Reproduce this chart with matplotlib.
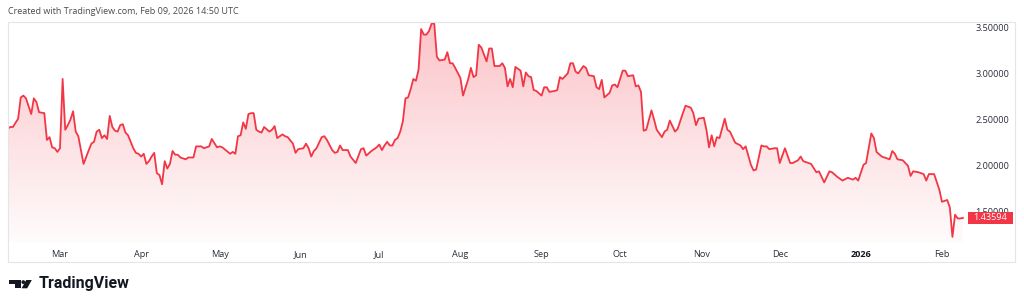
import numpy as np
import pandas as pd
import matplotlib
matplotlib.use("Agg")
import matplotlib.pyplot as plt
import matplotlib.dates as mdates
from matplotlib.patches import Rectangle, Polygon, Circle, PathPatch
from matplotlib.colors import to_rgb

# ---------------- data ----------------
START_DATE = "2025-02-09"
day_offsets = [
    0, 1, 2, 4, 5, 6, 7, 9, 10, 11, 12, 14, 15, 16, 17, 18, 19, 20, 21, 22,
    23, 24, 25, 26, 27, 29, 31, 32, 33, 34, 35, 36, 37, 38, 39, 40, 41, 42, 43, 44,
    45, 46, 48, 49, 50, 51, 52, 53, 54, 55, 56, 57, 58, 59, 60, 61, 62, 63, 64, 65,
    66, 68, 69, 71, 72, 74, 75, 77, 78, 80, 81, 82, 85, 86, 87, 88, 89, 90, 91, 92,
    93, 94, 95, 96, 97, 98, 100, 101, 102, 103, 105, 106, 107, 109, 110, 111, 113, 114, 115, 116,
    117, 118, 120, 121, 122, 124, 125, 126, 127, 128, 130, 131, 133, 135, 136, 137, 139, 141, 142, 143,
    144, 145, 146, 147, 148, 149, 150, 151, 152, 153, 154, 155, 156, 157, 158, 159, 160, 161, 162, 163,
    164, 165, 167, 168, 169, 170, 171, 173, 174, 176, 177, 178, 179, 180, 181, 183, 184, 185, 186, 188,
    189, 190, 191, 192, 193, 194, 196, 197, 198, 199, 200, 201, 202, 204, 205, 206, 207, 209, 210, 211,
    212, 214, 215, 216, 217, 218, 220, 221, 222, 224, 225, 226, 227, 228, 230, 231, 232, 233, 235, 236,
    237, 239, 240, 241, 242, 243, 244, 246, 247, 248, 250, 251, 252, 253, 255, 256, 258, 259, 261, 262,
    263, 264, 266, 267, 268, 269, 270, 271, 272, 274, 275, 276, 278, 280, 281, 282, 284, 285, 286, 288,
    289, 290, 291, 293, 294, 295, 297, 299, 300, 302, 303, 304, 306, 307, 309, 310, 312, 314, 315, 317,
    319, 321, 323, 324, 325, 327, 328, 330, 331, 332, 334, 337, 338, 339, 340, 342, 344, 345, 346, 348,
    350, 351, 352, 354, 356, 357, 359, 360, 361, 362, 363, 364, 365,
]
prices = [
    2.40, 2.42, 2.42, 2.51, 2.74, 2.76, 2.73, 2.56, 2.73, 2.69, 2.58, 2.57, 2.28, 2.31, 2.20, 2.19, 2.15, 2.19, 2.94, 2.39,
    2.44, 2.50, 2.59, 2.37, 2.32, 2.02, 2.17, 2.24, 2.26, 2.37, 2.39, 2.30, 2.33, 2.29, 2.54, 2.42, 2.38, 2.37, 2.44, 2.45,
    2.36, 2.33, 2.19, 2.14, 2.13, 2.10, 2.13, 2.02, 2.05, 2.10, 2.14, 1.92, 1.90, 1.80, 2.05, 1.97, 2.02, 2.16, 2.12, 2.12,
    2.09, 2.07, 2.09, 2.09, 2.21, 2.21, 2.19, 2.21, 2.29, 2.20, 2.21, 2.20, 2.13, 2.15, 2.13, 2.32, 2.33, 2.47, 2.40, 2.56,
    2.57, 2.57, 2.39, 2.37, 2.36, 2.42, 2.37, 2.39, 2.43, 2.30, 2.34, 2.32, 2.31, 2.24, 2.14, 2.18, 2.19, 2.24, 2.19, 2.10,
    2.16, 2.19, 2.31, 2.32, 2.28, 2.17, 2.14, 2.15, 2.22, 2.17, 2.17, 2.10, 2.03, 2.18, 2.19, 2.11, 2.16, 2.20, 2.23, 2.17,
    2.22, 2.26, 2.22, 2.22, 2.28, 2.30, 2.37, 2.48, 2.73, 2.74, 2.83, 2.94, 2.92, 3.04, 3.48, 3.42, 3.42, 3.46, 3.54, 3.54,
    3.18, 3.14, 3.15, 3.23, 3.11, 3.11, 3.06, 2.95, 2.76, 2.94, 3.06, 2.96, 2.98, 3.31, 3.28, 3.13, 3.27, 3.27, 3.08, 3.08,
    3.11, 3.06, 2.86, 2.94, 2.85, 3.07, 3.03, 2.86, 3.01, 2.97, 2.96, 2.82, 2.81, 2.76, 2.85, 2.85, 2.80, 2.81, 2.82, 2.96,
    2.94, 3.00, 3.11, 3.11, 3.02, 3.00, 3.08, 3.06, 2.98, 2.97, 2.85, 2.83, 2.93, 2.74, 2.79, 2.87, 2.88, 2.85, 3.03, 3.03,
    2.97, 2.98, 2.86, 2.87, 2.80, 2.38, 2.39, 2.60, 2.50, 2.39, 2.31, 2.37, 2.39, 2.49, 2.37, 2.40, 2.57, 2.65, 2.63, 2.57,
    2.44, 2.51, 2.52, 2.39, 2.20, 2.33, 2.21, 2.31, 2.30, 2.51, 2.39, 2.37, 2.25, 2.22, 2.18, 2.21, 2.01, 1.95, 1.96, 2.22,
    2.21, 2.21, 2.18, 2.19, 2.19, 2.03, 2.19, 2.03, 2.03, 2.06, 2.10, 2.05, 2.03, 2.02, 1.93, 1.94, 1.82, 1.94, 1.93, 1.88,
    1.84, 1.87, 1.85, 1.87, 1.84, 2.01, 2.03, 2.35, 2.30, 2.15, 2.10, 2.07, 2.16, 2.13, 2.07, 2.06, 2.00, 1.89, 1.94, 1.93,
    1.91, 1.84, 1.91, 1.91, 1.74, 1.61, 1.63, 1.55, 1.23, 1.47, 1.43, 1.43, 1.43594,
]
last_price = 1.43594
y_ticks = [1.5, 2.0, 2.5, 3.0, 3.5]
month_ticks = ["2025-03-01", "2025-04-01", "2025-05-01", "2025-06-01", "2025-07-01",
               "2025-08-01", "2025-09-01", "2025-10-01", "2025-11-01", "2025-12-01",
               "2026-01-01", "2026-02-01"]
month_labels = ["Mar", "Apr", "May", "Jun", "Jul", "Aug", "Sep", "Oct", "Nov", "Dec",
                "2026", "Feb"]
header_text = "Created with TradingView.com, Feb 09, 2026 14:50 UTC"
brand_text = "TradingView"

# ---------------- style ----------------
W, H = 1024, 308
RED = "#f23645"
TXT = "#2a2e39"
FONT = ["Open Sans", "DejaVu Sans"]

dates = pd.Timestamp(START_DATE) + pd.to_timedelta(day_offsets, unit="D")
xnum = mdates.date2num(dates)
x_start = mdates.date2num(pd.Timestamp(START_DATE))

fig = plt.figure(figsize=(W / 100, H / 100), dpi=100)
fig.patch.set_facecolor("white")

# main chart axes (pixel layout)
L, R, T, B = 8, 965, 21.5, 242
ax = fig.add_axes([L / W, 1 - B / H, (R - L) / W, (B - T) / H])
ax.set_facecolor("none")
ylo, yhi = 1.175, 3.562
xlo, xhi = x_start + 0.13, x_start + 365.8

# gradient fill under the line
poly = ax.fill_between(xnum, prices, ylo, facecolor="none", edgecolor="none")
clip = PathPatch(poly.get_paths()[0], transform=ax.transData,
                 facecolor="none", edgecolor="none")
ax.add_patch(clip)
n = 256
alpha = np.linspace(0.30, 0.02, n)
rgba = np.zeros((n, 1, 4))
rgba[:, 0, :3] = to_rgb(RED)
rgba[:, 0, 3] = alpha
im = ax.imshow(rgba, extent=[xlo, xhi, ylo, yhi], aspect="auto",
               origin="upper", zorder=1, interpolation="bilinear")
im.set_clip_path(clip)

ax.plot(xnum, prices, color=RED, lw=1.3, zorder=3, solid_joinstyle="round")

ax.set_xlim(xlo, xhi)
ax.set_ylim(ylo, yhi)
for s in ax.spines.values():
    s.set_visible(False)

ax.yaxis.tick_right()
ax.set_yticks(y_ticks)
ax.set_yticklabels([f"{v:.5f}" for v in y_ticks], fontfamily=FONT)
ax.tick_params(axis="y", length=0, pad=7.5, labelsize=6.6, labelcolor=TXT)

ax.set_xticks(mdates.date2num(pd.to_datetime(month_ticks)))
ax.set_xticklabels(month_labels, fontfamily=FONT)
ax.tick_params(axis="x", length=0, pad=5.5, labelsize=6.6, labelcolor=TXT)
for lab in ax.get_xticklabels():
    if lab.get_text() == "2026":
        lab.set_fontweight("bold")
        lab.set_color("#131722")

# overlay in pixel coordinates
ov = fig.add_axes([0, 0, 1, 1], zorder=5)
ov.set_xlim(0, W)
ov.set_ylim(H, 0)
ov.axis("off")
ov.patch.set_alpha(0)

# chart frame
ov.add_patch(Rectangle((7.5, 21.5), 1014.5 - 7.5, 262 - 21.5, fill=False,
                       edgecolor="#e3e5ea", lw=0.8))

# last price tag (sits over the 1.50000 label, as in the original)
y_disp = ax.transData.transform((xlo, last_price))[1]
y_pix = H - y_disp
ov.add_patch(Rectangle((967.5, y_pix - 6), 45.5, 12, facecolor=RED, edgecolor="none"))
ov.text(990.2, y_pix, f"{last_price:.5f}", color="white", fontsize=6.6,
        ha="center", va="center", family=FONT)

# header
ov.text(7.5, 12, header_text, fontsize=6.45, color="#4a4a4a", ha="left",
        va="center", family=FONT)

# TradingView logo
K = "#131722"
ov.add_patch(Polygon([(9.3, 280), (20.7, 280), (20.7, 288.3), (15.2, 288.3),
                      (15.2, 284), (9.3, 284)], closed=True, facecolor=K, edgecolor="none"))
ov.add_patch(Circle((23.3, 282.1), 1.9, facecolor=K, edgecolor="none"))
ov.add_patch(Polygon([(26.2, 280), (31.8, 280), (27.2, 288.3), (21.6, 288.3)],
                     closed=True, facecolor=K, edgecolor="none"))
ov.text(38.3, 288.2, brand_text, fontsize=11.5, fontweight="bold", color=K,
        ha="left", va="baseline", family=["Roboto", "DejaVu Sans"])

fig.savefig("out.png", dpi=100, facecolor="white")
